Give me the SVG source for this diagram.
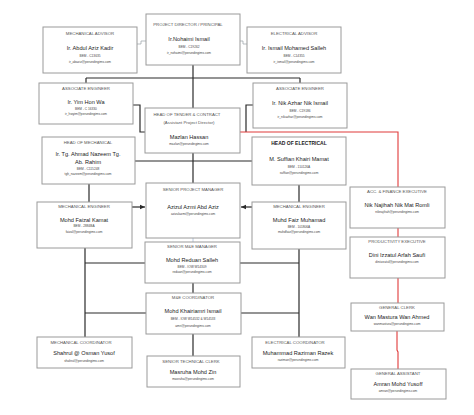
<svg xmlns="http://www.w3.org/2000/svg" width="474" height="415" viewBox="0 0 474 415">
<style>
.box{fill:#fff;stroke:#9a9a9a;stroke-width:1}
text{font-family:"Liberation Sans","Open Sans",Arial,sans-serif;text-anchor:middle}
.t{font-size:4.3px;fill:#555}
.tb{font-size:5px;fill:#222;font-weight:bold}
.n{font-size:5.6px;fill:#222}
.s{font-size:3.2px;fill:#444}
.c{fill:none;stroke:#2a2a2a;stroke-width:1.2}
.g{fill:none;stroke:#9aa0a8;stroke-width:0.7}
.r{fill:none;stroke:#e03a3a;stroke-width:1.1}
.lb{fill:none;stroke:#a8bcd8;stroke-width:0.8}
</style>
<defs>
<marker id="ah" markerWidth="6" markerHeight="6" refX="5" refY="3" orient="auto" markerUnits="userSpaceOnUse"><path d="M0,0.8 L5,3 L0,5.2 z" fill="#2a2a2a"/></marker>
</defs>
<rect width="474" height="415" fill="#fff"/>
<g id="connectors">
<polyline class="g" points="137,44 141,44 141,41 146,41"/>
<polyline class="g" points="240,41 243,41 243,44 247,44"/>
<line class="c" x1="193" y1="65" x2="193" y2="108"/>
<line class="c" x1="86" y1="78" x2="300" y2="78"/>
<line class="c" x1="86" y1="78" x2="86" y2="83"/>
<line class="c" x1="300" y1="78" x2="300" y2="83"/>
<polyline class="c" points="133,105 140,105 140,132 145,132"/>
<polyline class="c" points="253,105 246,105 246,132"/>
<polyline class="r" points="240,132 398,132 398,187"/>
<line class="r" x1="398" y1="228" x2="398" y2="237"/>
<line class="r" x1="398" y1="278" x2="398" y2="303"/>
<polyline class="r" points="397,331 397,350 398,352 398,369"/>
<line class="c" x1="193" y1="153" x2="193" y2="183"/>
<line class="c" x1="135" y1="161" x2="252" y2="161"/>
<line class="c" x1="89" y1="184" x2="89" y2="202"/>
<line class="c" x1="299" y1="185" x2="299" y2="202"/>
<line class="c" x1="132" y1="207" x2="145" y2="207" marker-end="url(#ah)"/>
<line class="c" x1="252" y1="207" x2="241" y2="207" marker-end="url(#ah)"/>
<line class="lb" x1="193" y1="238" x2="193" y2="242"/>
<line class="c" x1="85" y1="248" x2="85" y2="337"/>
<line class="c" x1="299" y1="249" x2="299" y2="337"/>
<line class="c" x1="85" y1="263" x2="145" y2="263"/>
<line class="c" x1="240" y1="263" x2="299" y2="263"/>
<line class="c" x1="85" y1="313" x2="146" y2="313"/>
<line class="c" x1="241" y1="313" x2="299" y2="313"/>
<line class="c" x1="193" y1="283" x2="193" y2="293"/>
<line class="c" x1="193" y1="334" x2="193" y2="356"/>
</g>
<g id="mech-advisor">
<rect class="box" x="43" y="27" width="94" height="46"/>
<text class="t" x="90" y="35">MECHANICAL ADVISOR</text>
<text class="n" x="90" y="50">Ir. Abdul Aziz Kadir</text>
<text class="s" x="90" y="57">BEM  -  C13635</text>
<text class="s" x="90" y="63">ir_abaziz@perundingims.com</text>
</g>
<g id="project-director">
<rect class="box" x="146" y="14" width="94" height="51"/>
<text class="t" x="188" y="26">PROJECT DIRECTOR / PRINCIPAL</text>
<text class="n" x="189" y="41">Ir.Nohaimi Ismail</text>
<text class="s" x="189" y="48">BEM  -  C19262</text>
<text class="s" x="189" y="54">ir_nohaimi@perundingims.com</text>
</g>
<g id="elec-advisor">
<rect class="box" x="247" y="27" width="94" height="46"/>
<text class="t" x="294" y="35">ELECTRICAL ADVISOR</text>
<text class="n" x="294" y="50">Ir. Ismail Mohamed Salleh</text>
<text class="s" x="294" y="57">BEM  -  C14355</text>
<text class="s" x="294" y="63">ir_ismail@perundingims.com</text>
</g>
<g id="assoc-left">
<rect class="box" x="39" y="83" width="94" height="41"/>
<text class="t" x="86" y="90">ASSOCIATE   ENGINEER</text>
<text class="n" x="86" y="104">Ir. Yim Hon Wa</text>
<text class="s" x="86" y="110">BEM  - C 16330</text>
<text class="s" x="86" y="115">ir_hwyim@perundingims.com</text>
</g>
<g id="assoc-right">
<rect class="box" x="253" y="83" width="94" height="45"/>
<text class="t" x="300" y="90">ASSOCIATE ENGINEER</text>
<text class="n" x="300" y="105">Ir. Nik Azhar Nik Ismail</text>
<text class="s" x="300" y="112">BEM  -  C19186</text>
<text class="s" x="300" y="118">ir_nikazhar@perundingims.com</text>
</g>
<g id="tender">
<rect class="box" x="145" y="108" width="95" height="45"/>
<text class="t" x="187" y="116">HEAD OF TENDER &amp; CONTRACT</text>
<text class="t" x="189" y="124">(Assistant Project Director)</text>
<text class="n" x="189" y="139">Mazlan Hassan</text>
<text class="s" x="189" y="145">mazlan@perundingims.com</text>
</g>
<g id="head-mechanical">
<rect class="box" x="42" y="137" width="93" height="47"/>
<text class="t" x="88" y="144">HEAD  OF  MECHANICAL</text>
<text class="n" x="88" y="156">Ir. Tg. Ahmad Nazeem Tg.</text>
<text class="n" x="88" y="164">Ab. Rahim</text>
<text class="s" x="88" y="170">BEM  -  C115248</text>
<text class="s" x="88" y="175">tgh_nazeem@perundingims.com</text>
</g>
<g id="head-electrical">
<rect class="box" x="252" y="137" width="94" height="48"/>
<text class="tb" x="299" y="145">HEAD OF ELECTRICAL</text>
<text class="n" x="299" y="161">M. Suffian Khairi Mamat</text>
<text class="s" x="299" y="168">BEM  -  110126A</text>
<text class="s" x="299" y="174">suffian@perundingims.com</text>
</g>
<g id="mech-engineer-left">
<rect class="box" x="37" y="202" width="95" height="46"/>
<text class="t" x="84" y="208">MECHANICAL ENGINEER</text>
<text class="n" x="84" y="222">Mohd   Faizal Kamat</text>
<text class="s" x="84" y="227">BEM  -  2884BA</text>
<text class="s" x="84" y="233">faizal@perundingims.com</text>
</g>
<g id="senior-pm">
<rect class="box" x="146" y="183" width="94" height="55"/>
<text class="t" x="193" y="191">SENIOR PROJECT MANAGER</text>
<text class="n" x="193" y="209">Azizul Azmi Abd Aziz</text>
<text class="s" x="193" y="215">azizulazmi@perundingims.com</text>
</g>
<g id="mech-engineer-right">
<rect class="box" x="252" y="202" width="94" height="47"/>
<text class="t" x="299" y="208">MECHANICAL ENGINEER</text>
<text class="n" x="299" y="222">Muhd   Faiz Muhamad</text>
<text class="s" x="299" y="228">BEM  -  101806A</text>
<text class="s" x="299" y="233">muhdfaiz@perundingims.com</text>
</g>
<g id="acc-finance">
<rect class="box" x="350" y="187" width="95" height="41"/>
<text class="t" x="397" y="193">ACC. &amp; FINANCE EXECUTIVE</text>
<text class="n" x="397" y="207">Nik Najihah Nik Mat Romli</text>
<text class="s" x="397" y="213">niknajihah@perundingims.com</text>
</g>
<g id="productivity">
<rect class="box" x="350" y="237" width="95" height="41"/>
<text class="t" x="397" y="243">PRODUCTIVITY EXECUTIVE</text>
<text class="n" x="397" y="257">Dini Izzatul Arfah Saufi</text>
<text class="s" x="397" y="263">diniizzatul@perundingims.com</text>
</g>
<g id="senior-me-manager">
<rect class="box" x="145" y="242" width="95" height="41"/>
<text class="t" x="192" y="248">SENIOR   M&amp;E MANAGER</text>
<text class="n" x="192" y="262">Mohd Reduan Salleh</text>
<text class="s" x="192" y="268">BEM  -  IOW  W14309</text>
<text class="s" x="192" y="273">reduan@perundingims.com</text>
</g>
<g id="me-coordinator">
<rect class="box" x="146" y="293" width="95" height="41"/>
<text class="t" x="193" y="299">M&amp;E COORDINATOR</text>
<text class="n" x="193" y="313">Mohd   Khairiamri Ismail</text>
<text class="s" x="193" y="320">BEM  -  IOW W14532 &amp; W14533</text>
<text class="s" x="193" y="327">amri@perundingims.com</text>
</g>
<g id="general-clerk">
<rect class="box" x="351" y="303" width="93" height="28"/>
<text class="t" x="397" y="309">GENERAL CLERK</text>
<text class="n" x="397" y="319">Wan Mastura Wan Ahmed</text>
<text class="s" x="397" y="325">wanmastura@perundingims.com</text>
</g>
<g id="mech-coordinator">
<rect class="box" x="37" y="337" width="95" height="31"/>
<text class="t" x="81" y="344">MECHANICAL   COORDINATOR</text>
<text class="n" x="84" y="355">Shahrul @ Osman Yusof</text>
<text class="s" x="84" y="362">shahrul@perundingims.com</text>
</g>
<g id="senior-technical-clerk">
<rect class="box" x="147" y="356" width="93" height="31"/>
<text class="t" x="191" y="363">SENIOR   TECHNICAL CLERK</text>
<text class="n" x="193" y="374">Masruha Mohd Zin</text>
<text class="s" x="193" y="380">masruha@perundingims.com</text>
</g>
<g id="elec-coordinator">
<rect class="box" x="252" y="337" width="93" height="31"/>
<text class="t" x="295" y="344">ELECTRICAL COORDINATOR</text>
<text class="n" x="298" y="355">Muhammad Raziman Razek</text>
<text class="s" x="298" y="361">raziman@perundingims.com</text>
</g>
<g id="general-assistant">
<rect class="box" x="351" y="369" width="95" height="30"/>
<text class="t" x="398" y="375">GENERAL ASSISTANT</text>
<text class="n" x="398" y="386">Amran Mohd Yusoff</text>
<text class="s" x="398" y="392">amran@perundingims.com</text>
</g>
</svg>
